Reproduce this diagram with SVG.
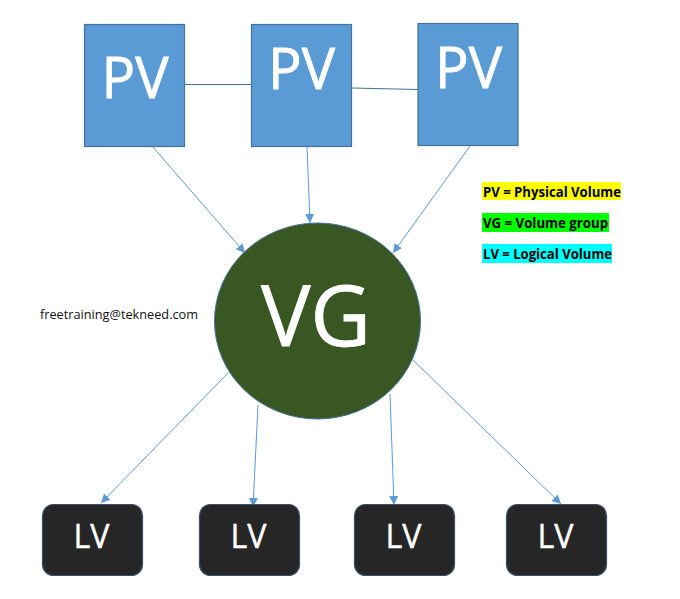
<svg xmlns="http://www.w3.org/2000/svg" width="680" height="599" viewBox="0 0 680 599">
<style>
text{font-family:"Open Sans","Noto Sans","Liberation Sans",sans-serif}
.pv{fill:#5b9bd5;stroke:#41719c;stroke-width:1.2}
.lv{fill:#262626;stroke:#3a4f6e;stroke-width:1.2}
.vg{fill:#385723;stroke:#41719c;stroke-width:1}
.big{fill:#fff;text-anchor:middle;stroke:#fff;stroke-width:.8}
.sm{fill:#fff;text-anchor:middle;stroke:#fff;stroke-width:.4;font-size:33px}
.c{fill:none;stroke:#5b9bd5;stroke-width:1}
.a{marker-end:url(#arrow)}
.p{fill:none;stroke:#41719c;stroke-width:1}
.k{font-size:13.5px;font-weight:700;fill:#000}
</style>
<defs>
<marker id="arrow" markerUnits="userSpaceOnUse" markerWidth="10" markerHeight="10" refX="9" refY="5" orient="auto">
<path d="M0 .5L9 5L0 9.500Z" fill="#5b9bd5"/>
</marker>
</defs>
<rect width="680" height="599" fill="#fff"/>
<g id="connectors">
<path class="p" d="M184.500 84.500H251.500"/>
<path class="p" d="M352 88L418 89.500"/>
<path class="c a" d="M152 146L245 253"/>
<path class="c a" d="M307 146L310 223"/>
<path class="c a" d="M470 146L393 253"/>
<path class="c a" d="M229 372L101 503"/>
<path class="c a" d="M258 405L253 507"/>
<path class="c a" d="M390 394L394 505"/>
<path class="c a" d="M413 360L561 504"/>
</g>
<g id="pv1"><rect class="pv" x="84.500" y="24.500" width="100" height="122"/><text class="big" x="135" y="98" font-size="57" textLength="67" lengthAdjust="spacingAndGlyphs">PV</text></g>
<g id="pv2"><rect class="pv" x="251.500" y="24.500" width="100" height="122"/><text class="big" x="301.500" y="89" font-size="57" textLength="67" lengthAdjust="spacingAndGlyphs">PV</text></g>
<g id="pv3"><rect class="pv" x="418" y="23.500" width="100" height="122"/><text class="big" x="468.500" y="88" font-size="57" textLength="67" lengthAdjust="spacingAndGlyphs">PV</text></g>
<g id="vg"><ellipse class="vg" cx="317.500" cy="321" rx="103" ry="98"/><text class="big" x="316" y="346" font-size="84" textLength="110" lengthAdjust="spacingAndGlyphs">VG</text></g>
<g id="lv1"><rect class="lv" x="42.500" y="504.500" width="100" height="71" rx="11"/><text class="sm" x="91.500" y="548" textLength="36" lengthAdjust="spacingAndGlyphs">LV</text></g>
<g id="lv2"><rect class="lv" x="199.500" y="504.500" width="100" height="71" rx="11"/><text class="sm" x="248.500" y="548" textLength="36" lengthAdjust="spacingAndGlyphs">LV</text></g>
<g id="lv3"><rect class="lv" x="354.500" y="504.500" width="100" height="71" rx="11"/><text class="sm" x="403.500" y="548" textLength="36" lengthAdjust="spacingAndGlyphs">LV</text></g>
<g id="lv4"><rect class="lv" x="506.500" y="504.500" width="100" height="71" rx="11"/><text class="sm" x="555.500" y="548" textLength="36" lengthAdjust="spacingAndGlyphs">LV</text></g>
<g id="legend">
<rect x="482" y="182" width="139" height="18" fill="#ffff00"/>
<text class="k" x="483" y="197" textLength="138" lengthAdjust="spacingAndGlyphs">PV = Physical Volume</text>
<rect x="482" y="213" width="127" height="19" fill="#00ff00"/>
<text class="k" x="483" y="228" textLength="125" lengthAdjust="spacingAndGlyphs">VG = Volume group</text>
<rect x="482" y="244" width="130" height="19" fill="#00ffff"/>
<text class="k" x="483" y="259" textLength="129" lengthAdjust="spacingAndGlyphs">LV = Logical Volume</text>
</g>
<text x="40" y="319" font-size="13" fill="#111" textLength="158" lengthAdjust="spacingAndGlyphs">freetraining@tekneed.com</text>
</svg>
